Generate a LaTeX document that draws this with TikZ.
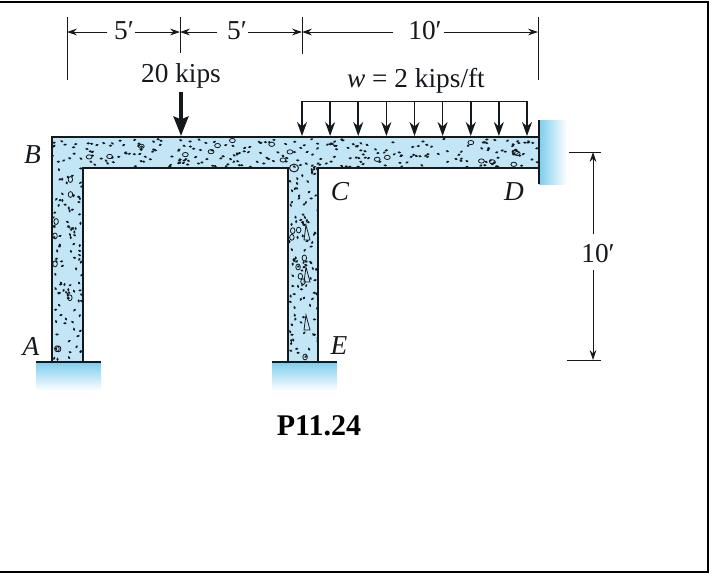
\documentclass[tikz,border=0pt]{standalone}
\usepackage{fontspec}
\setmainfont{Liberation Serif}
\usetikzlibrary{arrows.meta}
\definecolor{conc}{RGB}{195,230,247}
\definecolor{sky}{RGB}{125,205,238}
\definecolor{ink}{RGB}{20,25,30}
\tikzset{
  lbl/.style={inner sep=0pt,anchor=base,font=\fontsize{20.5}{24}\selectfont,text=ink},
  pt/.style={inner sep=0pt,font=\fontsize{20.5}{24}\selectfont\itshape,text=ink},
  ttl/.style={inner sep=0pt,anchor=base,font=\fontsize{22.5}{26}\selectfont\bfseries,text=black},
  dimline/.style={draw=ink,line width=0.6pt,-{Stealth[length=7.5pt,width=5pt]}},
  extline/.style={draw=ink,line width=0.6pt},
  loadarrow/.style={draw=ink,line width=1.2pt,-{Stealth[length=10.5pt,width=7.5pt]}},
  bigarrow/.style={draw=ink,line width=3pt,-{Stealth[length=14.5pt,width=11pt,inset=2pt]}},
  member/.style={draw=ink,line width=1.4pt,line join=miter},
}
\begin{document}
\begin{tikzpicture}[x=0.75pt,y=-0.75pt]
\useasboundingbox (0,0) rectangle (714,582);
\fill[white] (0,0) rectangle (714,582);
\draw[black,line width=1.6pt] (0,2) -- (708,2) -- (708,572) -- (0,572);
% supports
\shade[top color=sky,bottom color=white] (36,362) rectangle (101,391);
\shade[top color=sky,bottom color=white] (272,362) rectangle (337,391);
\shade[left color=sky,right color=white] (539,120) rectangle (567,184);
% frame
\fill[conc] (52,137) -- (539,137) -- (539,168) -- (318,168) -- (318,362) -- (288,362) -- (288,168) -- (83,168) -- (83,362) -- (52,362) -- cycle;
\begin{scope}
\clip (52,137) -- (539,137) -- (539,168) -- (318,168) -- (318,362) -- (288,362) -- (288,168) -- (83,168) -- (83,362) -- (52,362) -- cycle;
\pgfmathsetseed{2411}
% horizontal member speckle
\foreach \i in {1,...,250}{
  \pgfmathsetmacro{\px}{52+rnd*487}
  \pgfmathsetmacro{\py}{139+rnd*28}
  \pgfmathsetmacro{\rr}{rnd*70-35}
  \fill[ink,rotate around={\rr:(\px,\py)}] (\px,\py) ellipse [x radius=1.35pt,y radius=0.85pt];
}
\foreach \i in {1,...,18}{
  \pgfmathsetmacro{\px}{55+rnd*480}
  \pgfmathsetmacro{\py}{140+rnd*25}
  \draw[ink,line width=0.6pt] (\px,\py) ellipse [x radius=2.2pt,y radius=1.6pt];
}
% columns speckle
\foreach \cx in {52,288}{
  \foreach \i in {1,...,100}{
    \pgfmathsetmacro{\px}{\cx+1+rnd*29}
    \pgfmathsetmacro{\py}{168+rnd*194}
    \pgfmathsetmacro{\rr}{rnd*180}
    \fill[ink,rotate around={\rr:(\px,\py)}] (\px,\py) ellipse [x radius=1.35pt,y radius=0.85pt];
  }
  \foreach \i in {1,...,8}{
    \pgfmathsetmacro{\px}{\cx+3+rnd*25}
    \pgfmathsetmacro{\py}{172+rnd*186}
    \draw[ink,line width=0.6pt] (\px,\py) ellipse [x radius=1.7pt,y radius=2.2pt];
  }
}
\draw[ink,line width=0.7pt] (294,168) ellipse [x radius=3.4pt,y radius=2.9pt];
\draw[ink,line width=0.6pt] (304,240) -- (306,225) -- (310,240) -- cycle;
\draw[ink,line width=0.6pt] (304,282) -- (306,267) -- (310,282) -- cycle;
\draw[ink,line width=0.6pt] (304,330) -- (306,315) -- (310,330) -- cycle;
\end{scope}
\draw[member] (36,362) -- (101,362);
\draw[member] (272,362) -- (337,362);
\draw[member] (539,120) -- (539,184);
\draw[member] (539,137) -- (52,137) -- (52,362);
\draw[member] (83,362) -- (83,168) -- (288,168) -- (288,362);
\draw[member] (318,362) -- (318,168) -- (539,168);
% named points
\coordinate (d0) at (67,32);
\coordinate (d1) at (180,32);
\coordinate (d2) at (302,32);
\coordinate (d3) at (538,32);
\coordinate (e0t) at (67,17); \coordinate (e0b) at (67,80);
\coordinate (e1t) at (180,17); \coordinate (e1b) at (180,53);
\coordinate (e2t) at (302,17); \coordinate (e2b) at (302,54);
\coordinate (e3t) at (538,17); \coordinate (e3b) at (538,80);
\draw[extline] (e0t) -- (e0b);
\draw[extline] (e1t) -- (e1b);
\draw[extline] (e2t) -- (e2b);
\draw[extline] (e3t) -- (e3b);
\node[lbl] (l5a) at (124,39) {5′};
\node[lbl] (l5b) at (237,39) {5′};
\node[lbl] (l10a) at (425,39) {10′};
\coordinate (l5aw) at (107,32); \coordinate (l5ae) at (135,32);
\coordinate (l5bw) at (217,32); \coordinate (l5be) at (248,32);
\coordinate (l10w) at (393,32); \coordinate (l10e) at (444,32);
\draw[dimline] (l5aw) -- (d0);
\draw[dimline] (l5ae) -- (d1);
\draw[dimline] (l5bw) -- (d1);
\draw[dimline] (l5be) -- (d2);
\draw[dimline] (l10w) -- (d2);
\draw[dimline] (l10e) -- (d3);
% right dimension
\coordinate (r0a) at (569,152); \coordinate (r0b) at (601,152);
\coordinate (r1a) at (567,360); \coordinate (r1b) at (601,360);
\coordinate (rt) at (593,152); \coordinate (rb) at (593,360);
\draw[extline] (r0a) -- (r0b);
\draw[extline] (r1a) -- (r1b);
\node[lbl] (l10b) at (598,262) {10′};
\coordinate (r2) at (593,234); \coordinate (r3) at (593,270);
\draw[dimline] (r2) -- (rt);
\draw[dimline] (r3) -- (rb);
% loads
\node[lbl] (kips) at (181,82) {20 kips};
\coordinate (p0) at (181,92); \coordinate (p1) at (181,136);
\draw[bigarrow] (p0) -- (p1);
\node[lbl] (wl) at (416,87) {\textit{w} = 2 kips/ft};
\coordinate (u0) at (302,101.5); \coordinate (u8) at (527,101.5);
\draw[line width=1.2pt,ink,line cap=rect] (u0) -- (u8);
\foreach \k in {0,...,8}{
  \coordinate (ua\k) at ({302+28.125*\k},101.5);
  \coordinate (ub\k) at ({302+28.125*\k},136);
  \draw[loadarrow] (ua\k) -- (ub\k);
}
% point names
\node[pt] (B) at (32.5,155) {B};
\node[pt] (C) at (340,192) {C};
\node[pt] (D) at (514,192) {D};
\node[pt] (A) at (31,346) {A};
\node[pt] (E) at (339,346) {E};
\node[ttl] (title) at (319,435) {P11.24};
\end{tikzpicture}
\end{document}
